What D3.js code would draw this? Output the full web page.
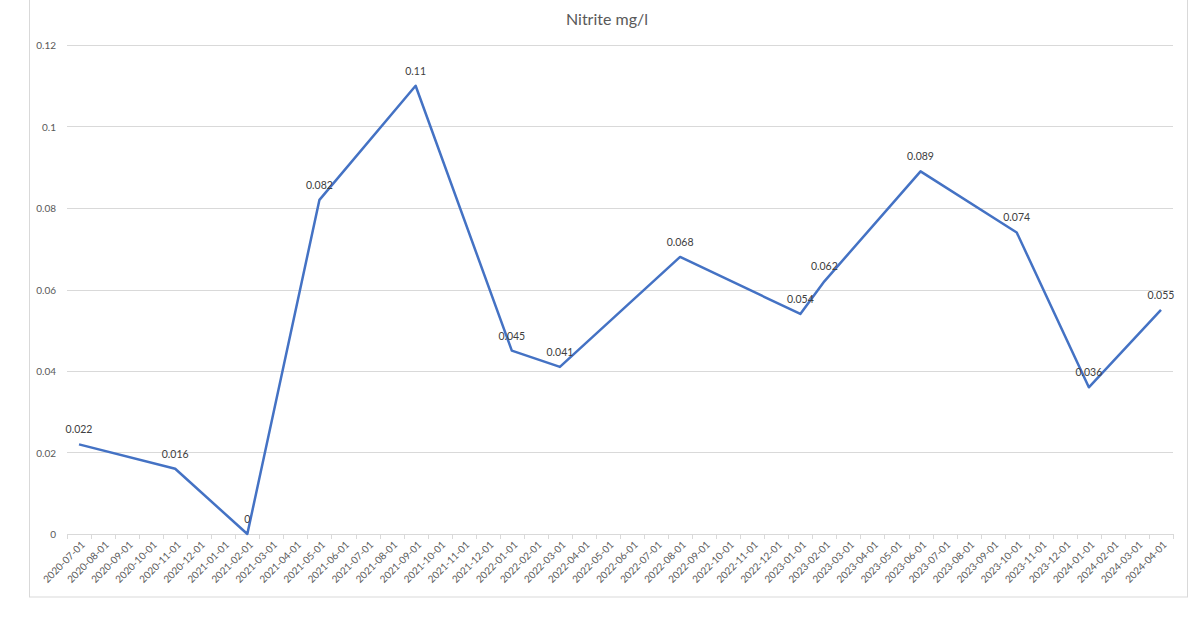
<!DOCTYPE html>
<html>
<head>
<meta charset="utf-8">
<script src="https://cdn.jsdelivr.net/npm/d3@7"></script>
<style>
  body { margin: 0; background: #fff; }
  text { font-family: Lato, "Noto Sans", sans-serif; }
</style>
</head>
<body>
<script>
// month categories on the x axis
const months = [
  '2020-07-01','2020-08-01','2020-09-01','2020-10-01','2020-11-01','2020-12-01',
  '2021-01-01','2021-02-01','2021-03-01','2021-04-01','2021-05-01','2021-06-01',
  '2021-07-01','2021-08-01','2021-09-01','2021-10-01','2021-11-01','2021-12-01',
  '2022-01-01','2022-02-01','2022-03-01','2022-04-01','2022-05-01','2022-06-01',
  '2022-07-01','2022-08-01','2022-09-01','2022-10-01','2022-11-01','2022-12-01',
  '2023-01-01','2023-02-01','2023-03-01','2023-04-01','2023-05-01','2023-06-01',
  '2023-07-01','2023-08-01','2023-09-01','2023-10-01','2023-11-01','2023-12-01',
  '2024-01-01','2024-02-01','2024-03-01','2024-04-01'
]

// sample dates and nitrite values
const sampleDates = [
  '2020-07-01','2020-11-01','2021-02-01','2021-05-01','2021-09-01','2022-01-01',
  '2022-03-01','2022-08-01','2023-01-01','2023-02-01','2023-06-01','2023-10-01',
  '2024-01-01','2024-04-01'
]
const nitrite = [0.022, 0.016, 0, 0.082, 0.11, 0.045, 0.041, 0.068, 0.054, 0.062, 0.089, 0.074, 0.036, 0.055]

const yTicks = [0, 0.02, 0.04, 0.06, 0.08, 0.1, 0.12]

const data = sampleDates.map((d, i) => ({ date: d, value: nitrite[i] }))

let W = 1200, H = 627
let margin = { top: 45, right: 27, bottom: 93, left: 67 },
    width = W - margin.left - margin.right,
    height = H - margin.top - margin.bottom

let svgRoot = d3.select('body').append('svg')
    .attr('width', W)
    .attr('height', H)

// chart border
svgRoot.append('rect')
    .attr('x', 29.5).attr('y', -10)
    .attr('width', 1158).attr('height', 607)
    .attr('fill', 'none')
    .attr('stroke', '#d9d9d9')

svgRoot.append('text')
    .attr('x', 607).attr('y', 25)
    .attr('text-anchor', 'middle')
    .attr('font-size', 16)
    .attr('fill', '#595959')
    .text('Nitrite mg/l')

let svg = svgRoot.append('g')
    .attr('transform', 'translate(' + margin.left + ',' + margin.top + ')')

let x = d3.scaleBand()
    .domain(months)
    .range([0, width])

let y = d3.scaleLinear()
    .domain([0, 0.12])
    .range([height, 0])

// gridlines
svg.append('g')
    .selectAll('line')
    .data(yTicks)
    .join('line')
    .attr('x1', 0).attr('x2', width)
    .attr('y1', d => Math.round(y(d)) + 0.5)
    .attr('y2', d => Math.round(y(d)) + 0.5)
    .attr('stroke', '#d9d9d9')

// y labels
svg.append('g')
    .selectAll('text')
    .data(yTicks)
    .join('text')
    .attr('x', -11)
    .attr('y', d => y(d) + 4)
    .attr('text-anchor', 'end')
    .attr('font-size', 10)
    .attr('fill', '#595959')
    .text(d => d)

// x tick marks at category boundaries
let bounds = months.map(m => x(m)).concat([width])
svg.append('g')
    .selectAll('line')
    .data(bounds)
    .join('line')
    .attr('x1', d => Math.round(d) + 0.5).attr('x2', d => Math.round(d) + 0.5)
    .attr('y1', height).attr('y2', height + 5)
    .attr('stroke', '#d9d9d9')

// x labels, rotated
svg.append('g')
    .selectAll('text')
    .data(months)
    .join('text')
    .attr('transform', d => 'translate(' + (x(d) + x.bandwidth() / 2 + 4) + ',' + (height + 9) + ') rotate(-45)')
    .attr('text-anchor', 'end')
    .attr('dy', '0.35em')
    .attr('font-size', 10)
    .attr('fill', '#595959')
    .text(d => d)

let line = d3.line()
    .x(d => x(d.date) + x.bandwidth() / 2)
    .y(d => y(d.value))

svg.append('path')
    .datum(data)
    .attr('d', line)
    .attr('fill', 'none')
    .attr('stroke', '#4472c4')
    .attr('stroke-width', 2.5)
    .attr('stroke-linejoin', 'round')

// data labels
svg.append('g')
    .selectAll('text')
    .data(data)
    .join('text')
    .attr('x', d => x(d.date) + x.bandwidth() / 2)
    .attr('y', d => y(d.value) - 11)
    .attr('text-anchor', 'middle')
    .attr('font-size', 10.5)
    .attr('fill', '#404040')
    .text(d => d.value)
</script>
</body>
</html>
